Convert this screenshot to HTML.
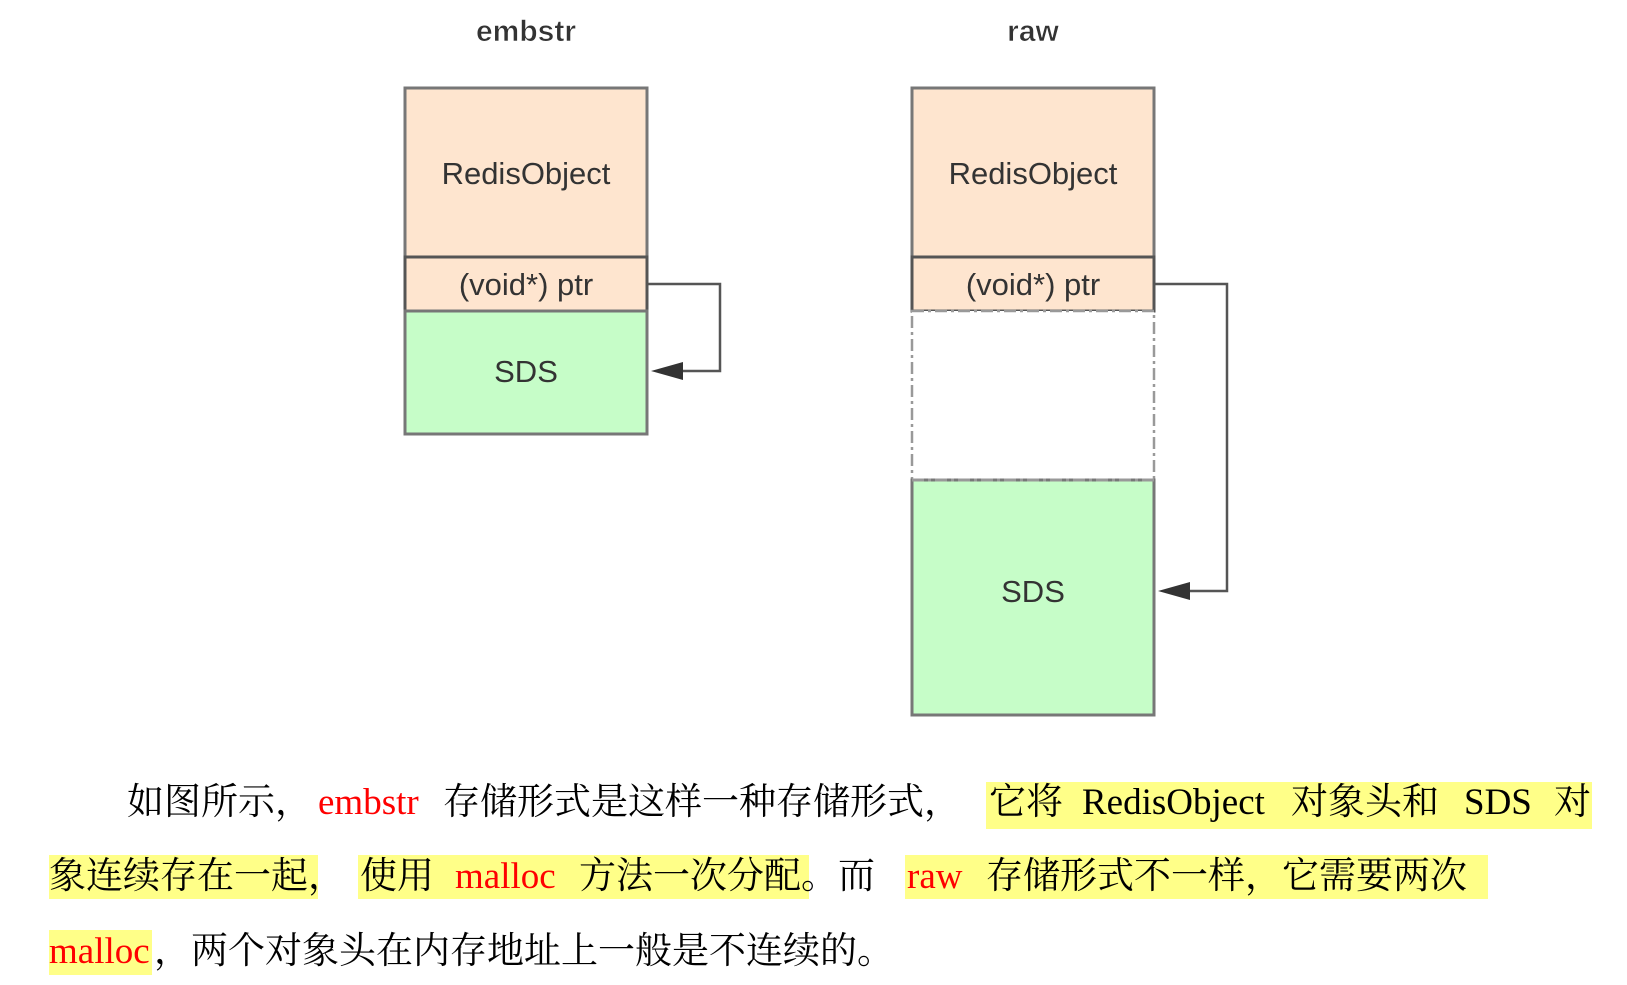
<!DOCTYPE html>
<html><head><meta charset="utf-8"><style>
body{margin:0;width:1627px;height:985px;background:#fff;position:relative;overflow:hidden}
.t{position:absolute;font-family:"Liberation Serif","Noto Serif CJK SC",serif;font-size:37px;line-height:1;white-space:nowrap;color:#000}
.r{color:#f00}
.h{position:absolute;background:#ffff88}
.d{font-family:"Liberation Sans",sans-serif;fill:#333;font-size:31px}
.ti{font-family:"Liberation Sans",sans-serif;fill:#333;font-size:30px;font-weight:bold;stroke:#fff;stroke-width:0.6px}
</style></head><body>
<svg width="1627" height="760" style="position:absolute;left:0;top:0">
<text class="ti" x="526" y="41" text-anchor="middle">embstr</text>
<text class="ti" x="1033" y="41" text-anchor="middle">raw</text>
<rect x="405" y="88" width="242" height="169" fill="#fee5cf" stroke="#777" stroke-width="3"/>
<rect x="405" y="257" width="242" height="54" fill="#fee5cf" stroke="#555" stroke-width="3"/>
<rect x="405" y="311" width="242" height="123" fill="#c6fdc8" stroke="#777" stroke-width="3"/>
<text class="d" x="526" y="184" text-anchor="middle">RedisObject</text>
<text class="d" x="526" y="295" text-anchor="middle">(void*) ptr</text>
<text class="d" x="526" y="382" text-anchor="middle">SDS</text>
<polyline points="647,284 720,284 720,371 666,371" fill="none" stroke="#555" stroke-width="2.5"/>
<path d="M651,371L683,362L683,380z" fill="#333"/>
<rect x="912" y="88" width="242" height="169" fill="#fee5cf" stroke="#777" stroke-width="3"/>
<rect x="912" y="257" width="242" height="54" fill="#fee5cf" stroke="#555" stroke-width="3"/>
<rect x="912" y="311" width="242" height="169" fill="#fff" stroke="#999" stroke-width="2.5" stroke-dasharray="12,4,3,4"/>
<rect x="912" y="480" width="242" height="235" fill="#c6fdc8" stroke="#777" stroke-width="3"/>
<line x1="912" y1="480" x2="1154" y2="480" stroke="#999" stroke-width="3" stroke-dasharray="12,4,3,4"/>
<text class="d" x="1033" y="184" text-anchor="middle">RedisObject</text>
<text class="d" x="1033" y="295" text-anchor="middle">(void*) ptr</text>
<text class="d" x="1033" y="602" text-anchor="middle">SDS</text>
<polyline points="1154,284 1227,284 1227,591 1173,591" fill="none" stroke="#555" stroke-width="2.5"/>
<path d="M1158,591L1190,582L1190,600z" fill="#333"/>
</svg>
<div class="h" style="left:986px;top:782px;width:606px;height:47px"></div>
<div class="h" style="left:49px;top:855px;width:269px;height:44px"></div>
<div class="h" style="left:358px;top:855px;width:451px;height:44px"></div>
<div class="h" style="left:905px;top:855px;width:583px;height:44px"></div>
<div class="h" style="left:49px;top:930px;width:103px;height:45px"></div>
<div class="t" style="left:127px;top:784px">如图所示，</div>
<div class="t r" style="left:318px;top:784px">embstr</div>
<div class="t" style="left:443px;top:784px">存储形式是这样一种存储形式，</div>
<div class="t" style="left:989px;top:784px">它将</div>
<div class="t" style="left:1082px;top:784px">RedisObject</div>
<div class="t" style="left:1291px;top:784px">对象头和</div>
<div class="t" style="left:1464px;top:784px">SDS</div>
<div class="t" style="left:1554px;top:784px">对</div>
<div class="t" style="left:49px;top:858px">象连续存在一起，</div>
<div class="t" style="left:360px;top:858px">使用</div>
<div class="t r" style="left:455px;top:858px">malloc</div>
<div class="t" style="left:579px;top:858px">方法一次分配。而</div>
<div class="t r" style="left:907px;top:858px">raw</div>
<div class="t" style="left:986px;top:858px">存储形式不一样，它需要两次</div>
<div class="t r" style="left:49px;top:933px">malloc</div>
<div class="t" style="left:154px;top:933px">，两个对象头在内存地址上一般是不连续的。</div>
</body></html>
